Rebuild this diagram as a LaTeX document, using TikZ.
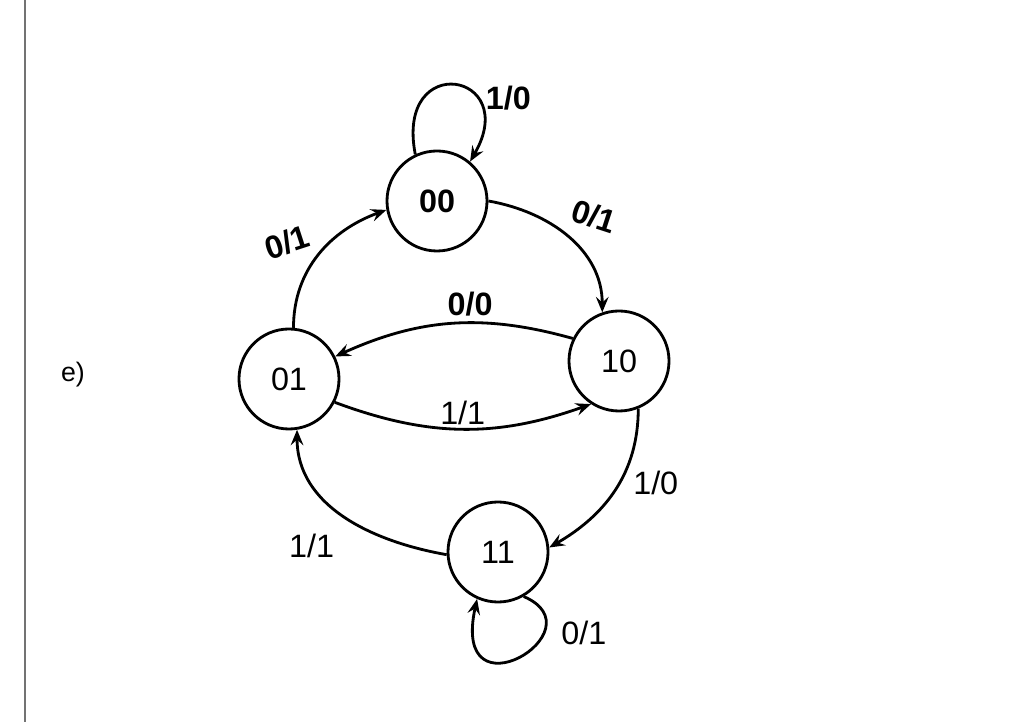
\documentclass[tikz,border=0pt]{standalone}
\usepackage{fontspec}
\setmainfont{Liberation Sans}
\usetikzlibrary{positioning,arrows.meta}

\begin{document}
\begin{tikzpicture}[x=0.025cm,y=0.025cm,
	every node/.style={font=\fontsize{23}{27}\selectfont},
	state/.style={circle,draw=black,line width=2pt,minimum size=2.5cm,inner sep=0pt},
	trans/.style={line width=2pt,-{Stealth[length=11pt,width=9pt,inset=4pt]}},
	lbl/.style={inner sep=2pt}]
			\useasboundingbox (0,0) rectangle (1024,722);
			%margin of the sheet
			\draw[black!55,line width=0.8pt] (25,0) -- (25,722);
			\node (part) at (73,347) {\fontsize{19}{21}\selectfont e)};

			%states
			\node [state] (s00) at (437,521) {\textbf{00}};
			\node [state] (s01) at (289,343) {01};
			\node [state] (s10) at (619,361) {10};
			\node [state] (s11) at (498,170) {11};

			%edges
			\draw[trans] (s00.115) .. controls (395,672) and (522,650) .. node[lbl, pos=.62, above right, xshift=.3cm, yshift=-.55cm] {\textbf{1/0}} (s00.50);
			\draw[trans] (s00.0) to[out=-10,in=90] node[lbl, pos=.3, above right, rotate=-18, xshift=.6cm, yshift=.05cm] {\textbf{0/1}} (s10.109);
			\draw[trans] (s01.85) to[out=90,in=200] node[lbl, pos=.4, above left, rotate=18, xshift=.3cm, yshift=.35cm] {\textbf{0/1}} (s00.190);
			\draw[trans] (s10.154) to[bend right=20] node[lbl, above, xshift=.45cm, yshift=.08cm] {\textbf{0/0}} (s01.26);
			\draw[trans] (s01.-27) to[bend right=20] node[lbl, above] {1/1} (s10.237);
			\draw[trans] (s10.-68) to[out=-90,in=30] node[lbl, pos=.45, right, xshift=.25cm] {1/0} (s11.5);
			\draw[trans] (s11.183) to[out=170,in=-90] node[lbl, pos=.45, below left, xshift=-.35cm, yshift=-.2cm] {1/1} (s01.-81);
			\draw[trans] (s11.-60) .. controls (602,92) and (450,0) .. node[lbl, pos=.3, right, xshift=.35cm, yshift=.05cm] {0/1} (s11.-114);
		\end{tikzpicture}
\end{document}
